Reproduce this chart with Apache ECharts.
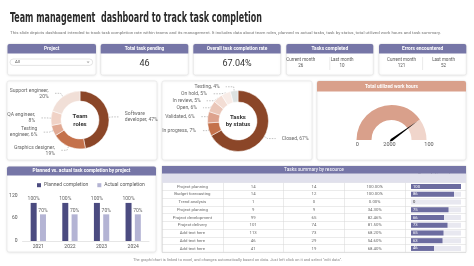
<!DOCTYPE html>
<html><head><meta charset="utf-8">
<script src="https://cdn.jsdelivr.net/npm/echarts@6/dist/echarts.min.js"></script>
<style>html,body{margin:0;padding:0;background:#fff}#c{width:474px;height:266px}</style>
</head><body><div id="c"></div>
<script>
// ---------- data ----------
const titleText = 'Team management  dashboard to track task completion';
const subtitleText = 'This slide depicts dashboard intended to track task completion rate within teams and its management. It includes data about team roles, planned vs actual tasks, task by status, total utilized work hours and task summary.';
const footerText = 'The graph/chart is linked to excel, and changes automatically based on data. Just left click on it and select "edit data".';

const kpiHeaders = ['Project', 'Total task pending', 'Overall task completion rate', 'Tasks completed', 'Errors encountered'];
const projectSelected = 'All';
const tasksPending = '46';
const overallCompletion = '67.04%';
const periodLabels = ['Current month', 'Last month'];
const tasksCompleted = [26, 10];
const errorsEncountered = [121, 52];

const roleNames = ['Software developer', 'Graphics designer', 'Testing engineer', 'QA engineer', 'Support engineer'];
const roleValues = [47, 19, 6, 8, 20];
const statusNames = ['Closed', 'In progress', 'Validated', 'Open', 'In review', 'On hold', 'Testing'];
const statusValues = [67, 7, 6, 6, 5, 5, 4];

const gaugeTitle = 'Total utilized work hours';
const gaugeValue = 80;
const gaugeHours = 2000;
const gaugeRange = [0, 100];

const barTitle = 'Planned vs. actual task completion by project';
const years = ['2021', '2022', '2023', '2024'];
const plannedCompletion = [100, 100, 100, 100];
const actualCompletion = [70, 70, 70, 70];
const barSeriesNames = ['Planned completion', 'Actual completion'];

const tableTitle = 'Tasks summary by resource';
const tableColumns = ['Resource', 'Planned tasks', 'Closed tasks', 'Utilized hours', 'Completion rate'];
const resources = ['Project planning', 'Budget forecasting', 'Trend analysis', 'Project planning', 'Project development', 'Project delivery', 'Add text here', 'Add text here', 'Add text here'];
const plannedTasks = [14, 14, 1, 9, 99, 101, 113, 46, 41];
const closedTasks = [14, 12, 0, 9, 65, 74, 73, 29, 19];
const utilizedHours = ['100.00%', '100.00%', '0.00%', '34.30%', '82.46%', '81.50%', '68.20%', '54.60%', '68.40%'];
const completionRate = [100, 86, 0, 75, 66, 73, 65, 63, 46];
const rateTrack = [100, 100, 100, 100, 100, 100, 100, 100, 100];

// ---------- styles ----------
const FONT = 'Roboto, "DejaVu Sans", sans-serif';
const PURPLE = '#7676a7';
const SALMON = '#d9a08b';
const roleColors = ['#8b4628', '#c4714b', '#e1a993', '#f0d2c6', '#f1dfd7'];
const statusColors = ['#8b4628', '#c4714b', '#dda28d', '#eac6b8', '#f3ddd4', '#f8ece7', '#dde2e1'];
const GC = [391.5, 140], GR = 35;

const mctx = document.createElement('canvas').getContext('2d');
function fit(text, font, target) { mctx.font = font; return target / mctx.measureText(text).width; }

const g = [];
function box(x, y, w, h) {
  g.push({ type: 'rect', z: 0, shape: { x, y, width: w, height: h, r: 2 },
    style: { fill: '#fff', stroke: '#e2e2e2', lineWidth: 0.6, shadowBlur: 3, shadowColor: 'rgba(0,0,0,0.10)', shadowOffsetY: 0.5 } });
}
function header(x, y, w, h, color, text, fs) {
  g.push({ type: 'rect', z: 1, shape: { x, y, width: w, height: h, r: [2, 2, 0, 0] }, style: { fill: color } });
  g.push({ type: 'text', z: 5, x: x + w / 2, y: y + h / 2 + 0.3,
    style: { text, fill: '#fff', fontSize: fs || 5, fontWeight: 'bold', fontFamily: FONT, align: 'center', verticalAlign: 'middle' } });
}
function txt(x, y, text, o) {
  g.push({ type: 'text', z: 20, x, y, style: Object.assign({ text, fill: '#555', fontSize: 4.5, fontFamily: FONT, align: 'center', verticalAlign: 'middle' }, o || {}) });
}

// title / subtitle / footer
const titleFont = 'bold 14px "Liberation Sans Narrow", "DejaVu Sans Condensed", sans-serif';
g.push({ type: 'text', z: 5, x: 10, y: 18, scaleX: fit(titleText, titleFont, 252),
  style: { text: titleText, font: titleFont, fill: '#2b2b2b', verticalAlign: 'middle' } });
const subFont = '4.4px Roboto, sans-serif';
g.push({ type: 'text', z: 5, x: 10, y: 32.6, scaleX: fit(subtitleText, subFont, 431),
  style: { text: subtitleText, font: subFont, fill: '#777', verticalAlign: 'middle' } });
const footFont = '4.2px Roboto, sans-serif';
g.push({ type: 'text', z: 5, x: 133, y: 259.5, scaleX: fit(footerText, footFont, 209),
  style: { text: footerText, font: footFont, fill: '#8a8a8a', verticalAlign: 'middle' } });

// KPI row
const kb = [[7.5, 88.5], [100.7, 87.6], [193.3, 87.4], [286.3, 87], [379, 87.3]];
kb.forEach((b, i) => { box(b[0], 44, b[1], 31); header(b[0], 44, b[1], 9.5, PURPLE, kpiHeaders[i], 4.8); });
g.push({ type: 'rect', z: 2, shape: { x: 10, y: 59, width: 82.7, height: 6.4, r: 3.2 }, style: { fill: '#fff', stroke: '#c9c9c9', lineWidth: 0.5 } });
txt(15, 62.3, projectSelected, { align: 'left', fill: '#555', fontSize: 4.3 });
g.push({ type: 'polygon', z: 3, shape: { points: [[86.6, 61.4], [89.6, 61.4], [88.1, 63.2]] }, style: { fill: '#aaa' } });
txt(144.5, 63.8, tasksPending, { fontSize: 9, fill: '#333' });
txt(237, 63.8, overallCompletion, { fontSize: 9, fill: '#333' });
[[300.7, 342, 329.8, tasksCompleted], [401.5, 443.5, 422.6, errorsEncountered]].forEach(s => {
  txt(s[0], 60.3, periodLabels[0]); txt(s[1], 60.3, periodLabels[1]);
  txt(s[0], 65.4, String(s[3][0])); txt(s[1], 65.4, String(s[3][1]));
  g.push({ type: 'line', z: 3, shape: { x1: s[2], y1: 57, x2: s[2], y2: 70 }, style: { stroke: '#dcdcdc', lineWidth: 0.6 } });
});

// middle row
box(7, 81, 150, 79); box(162, 81, 150, 79); box(317, 81, 149, 79);
header(317, 81, 149, 10.5, SALMON, gaugeTitle, 4.8);
txt(80, 120.5, 'Team\nroles', { fontSize: 6, fontWeight: 'bold', fill: '#333', lineHeight: 7.5 });
txt(238, 121, 'Tasks\nby status', { fontSize: 6, fontWeight: 'bold', fill: '#333', lineHeight: 7.5 });

// bottom left
box(7, 166.5, 149, 85.5);
header(7, 166.5, 149, 9, PURPLE, barTitle, 4.8);

// table
g.push({ type: 'rect', z: 0, shape: { x: 162, y: 166, width: 304, height: 86.3 }, style: { fill: '#fff', stroke: '#d6d6d6', lineWidth: 0.6, shadowBlur: 3, shadowColor: 'rgba(0,0,0,0.08)' } });
g.push({ type: 'rect', z: 1, shape: { x: 162, y: 166, width: 304, height: 7.7 }, style: { fill: PURPLE } });
txt(314, 170, tableTitle, { fill: '#fff', fontSize: 4.8 });
g.push({ type: 'rect', z: 1, shape: { x: 162, y: 173.7, width: 304, height: 9 }, style: { fill: '#e0e0ec' } });

const roleLabel = p => {
  const nm = p.name, pct = p.value + '%';
  if (nm === 'Testing engineer' || nm === 'Software developer') { const i = nm.indexOf(' '); return nm.slice(0, i) + '\n' + nm.slice(i + 1) + ', ' + pct; }
  return nm + ',\n' + pct;
};

const cells = [];
resources.forEach((r, i) => {
  [r, plannedTasks[i], closedTasks[i], utilizedHours[i]].forEach((v, c) => cells.push({ name: String(v), value: [c, i] }));
});

const gaugeTxt = { fontSize: 5.5, color: '#555', fontFamily: FONT, align: 'center', lineHeight: 6 };

const option = {
  animation: false,
  textStyle: { fontFamily: FONT },
  graphic: { elements: g },
  legend: { data: barSeriesNames, left: 37, top: 182.7, padding: 0, itemWidth: 4, itemHeight: 4, itemGap: 9, icon: 'rect',
    textStyle: { fontSize: 5, color: '#555', padding: [0, 0, 0, -2] } },
  grid: [
    { left: 22.5, top: 195.3, width: 126.5, height: 45.7 },
    { left: 162, top: 182.7, width: 243, height: 69.6 },
    { left: 405, top: 182.7, width: 61, height: 69.6 }
  ],
  xAxis: [
    { gridIndex: 0, type: 'category', data: years, axisTick: { show: false },
      axisLine: { lineStyle: { color: '#d5d5d5', width: 0.6 } }, axisLabel: { fontSize: 5, color: '#555', margin: 3 } },
    { gridIndex: 1, type: 'category', data: tableColumns.slice(0, 4), position: 'top', axisTick: { show: false }, axisLine: { show: false },
      axisLabel: { fontSize: 5, color: '#333', margin: 3, interval: 0 }, splitLine: { show: true, interval: 0, lineStyle: { color: '#d6d6d6', width: 0.5 } } },
    { gridIndex: 2, type: 'value', min: -12, max: 110, position: 'top', axisLabel: { show: false }, axisTick: { show: false },
      axisLine: { show: false }, splitLine: { show: false }, name: tableColumns[4], nameLocation: 'middle', nameGap: 4.5,
      nameTextStyle: { fontSize: 5, color: '#333' } }
  ],
  yAxis: [
    { gridIndex: 0, type: 'value', min: 0, max: 120, interval: 60, splitLine: { show: false }, axisLine: { show: false },
      axisLabel: { fontSize: 5, color: '#555', margin: 5 } },
    { gridIndex: 1, type: 'category', data: resources.map((r, i) => i), inverse: true, axisLabel: { show: false }, axisTick: { show: false },
      axisLine: { show: false }, splitLine: { show: true, interval: 0, lineStyle: { color: '#d6d6d6', width: 0.5 } } },
    { gridIndex: 2, type: 'category', data: resources.map((r, i) => i), inverse: true, axisLabel: { show: false }, axisTick: { show: false },
      axisLine: { show: false }, splitLine: { show: true, interval: 0, lineStyle: { color: '#d6d6d6', width: 0.5 } } }
  ],
  series: [
    { type: 'pie', center: [80, 120], radius: [19, 29], startAngle: 90, silent: true, bleedMargin: 0,
      data: roleNames.map((n, i) => ({ name: n, value: roleValues[i], itemStyle: { color: roleColors[i] } })),
      itemStyle: { borderColor: '#fff', borderWidth: 0.5 },
      label: { fontSize: 5, color: '#666', lineHeight: 6, formatter: roleLabel, padding: [0, 1], overflow: 'none', edgeDistance: 0 },
      labelLine: { length: 4, length2: 6, lineStyle: { color: '#999', width: 0.6, type: [1.5, 1.2] } } },
    { type: 'pie', center: [238, 121], radius: [19, 30.5], startAngle: 90, silent: true, bleedMargin: 0,
      data: statusNames.map((n, i) => ({ name: n, value: statusValues[i], itemStyle: { color: statusColors[i] } })),
      itemStyle: { borderColor: '#fff', borderWidth: 0.5 },
      label: { fontSize: 5, color: '#666', formatter: '{b}, {c}%', padding: [0, 1], overflow: 'none', edgeDistance: 0 },
      labelLine: { length: 4, length2: 8, lineStyle: { color: '#999', width: 0.6, type: [1.5, 1.2] } } },
    { type: 'gauge', center: GC, radius: GR, startAngle: 180, endAngle: 0, min: gaugeRange[0], max: gaugeRange[1], splitNumber: 1,
      axisLine: { show: true, lineStyle: { width: 15, color: [[(gaugeValue - gaugeRange[0]) / (gaugeRange[1] - gaugeRange[0]), SALMON], [1, '#f0d5cb']] } },
      splitLine: { show: false }, axisTick: { show: false }, axisLabel: { show: false },
      pointer: { show: true, length: '90%', width: 1.2, itemStyle: { color: '#000' } },
      anchor: { show: false }, title: { show: false },
      detail: { show: true, width: 87, height: 6, padding: 0, lineHeight: 6, fontSize: 5.5, fontWeight: 'normal', color: '#555',
        backgroundColor: 'transparent', offsetCenter: [5.3, 4.8],
        formatter: () => '{a|' + gaugeRange[0] + '}{b|' + gaugeHours + '}{c|' + gaugeRange[1] + '}',
        rich: { a: Object.assign({ width: 8 }, gaugeTxt), b: Object.assign({ width: 56.4 }, gaugeTxt), c: Object.assign({ width: 22.6 }, gaugeTxt) } },
      data: [{ value: gaugeValue, name: gaugeTitle }] },
    { type: 'bar', name: barSeriesNames[0], xAxisIndex: 0, yAxisIndex: 0, data: plannedCompletion, barWidth: 6, barGap: '55%',
      itemStyle: { color: '#4b4b80' }, label: { show: true, position: 'top', distance: 1.5, fontSize: 5, color: '#666', formatter: '{c}%' } },
    { type: 'bar', name: barSeriesNames[1], xAxisIndex: 0, yAxisIndex: 0, data: actualCompletion, barWidth: 6, barGap: '55%',
      itemStyle: { color: '#b4b4d4' }, label: { show: true, position: 'top', distance: 1.5, fontSize: 5, color: '#666', formatter: '{c}%' } },
    { type: 'scatter', xAxisIndex: 1, yAxisIndex: 1, data: cells, symbolSize: 1, silent: true,
      itemStyle: { color: 'rgba(0,0,0,0)' }, label: { show: true, position: 'inside', formatter: '{b}', fontSize: 4.3, color: '#444' } },
    { type: 'bar', xAxisIndex: 2, yAxisIndex: 2, data: rateTrack, barWidth: 5, barGap: '-100%', silent: true, itemStyle: { color: '#e8e8f0' } },
    { type: 'bar', xAxisIndex: 2, yAxisIndex: 2, barWidth: 5, barGap: '-100%', silent: true, itemStyle: { color: '#6c6ca0' },
      data: completionRate.map(v => ({ value: v, label: v === 0 ? { color: '#333' } : undefined })),
      label: { show: true, position: 'insideLeft', distance: 2, fontSize: 4.2, color: '#fff' } }
  ]
};
const chart = echarts.init(document.getElementById('c'), null, { renderer: 'canvas' });
chart.setOption(option);
</script></body></html>
